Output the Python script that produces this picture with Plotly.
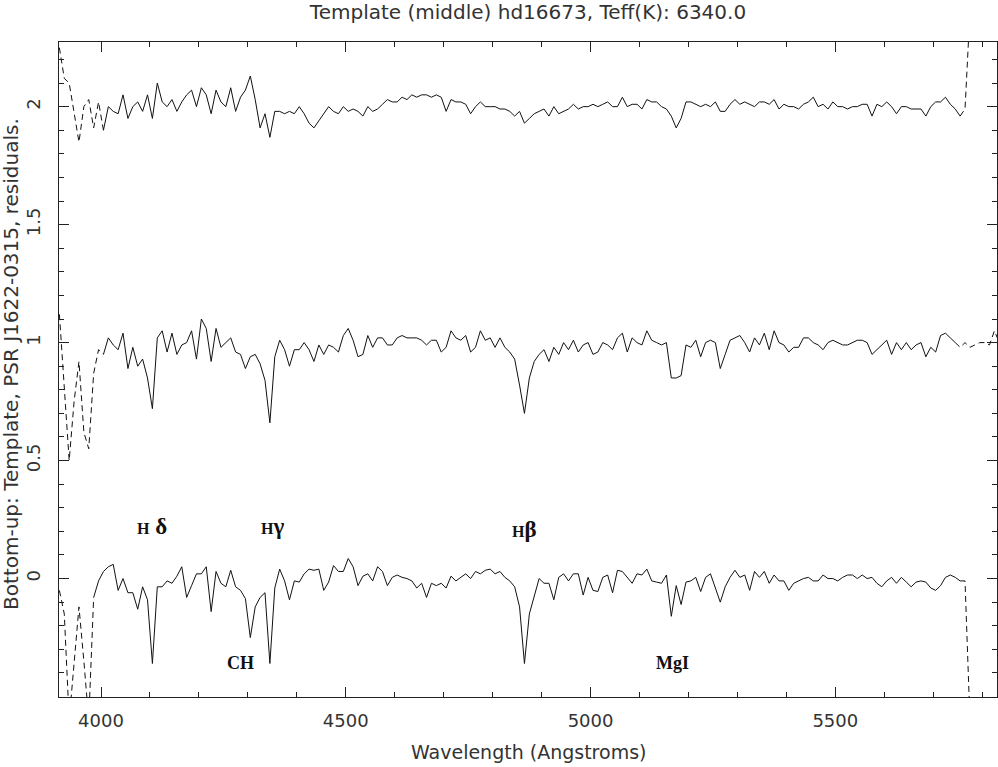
import numpy as np
import plotly.graph_objects as go

# spectra sampled every 10 A; each value is taken at the bin centre
WAVE_START = 3915
WAVE_STEP = 10

# bottom: template spectrum (normalised, shifted to 0)
template = [
    -0.05, -0.15, -0.6, -0.35, -0.12, -0.35, -0.6, -0.08, -0.01, 0.03,
    0.05, 0.06, -0.05, 0.0, -0.06, -0.06, -0.13, -0.035, -0.09, -0.36,
    -0.035, -0.035, -0.01, -0.02, 0.01, 0.05, -0.08, -0.03, 0.02, 0.02,
    0.05, -0.14, 0.03, -0.02, -0.035, 0.035, -0.035, -0.05, -0.085, -0.25,
    -0.12, -0.08, -0.06, -0.36, -0.04, 0.04, -0.01, -0.09, -0.01, -0.015,
    0.02, 0.04, 0.035, 0.04, -0.05, -0.015, 0.055, 0.03, 0.03, 0.085,
    0.05, -0.03, 0.01, 0.02, -0.01, 0.05, 0.03, -0.03, 0.005, 0.015,
    0.005, 0.0, -0.01, -0.04, -0.02, -0.08, -0.02, -0.03, -0.02, -0.04,
    0.01, -0.01, 0.005, 0.02, 0.0, 0.03, 0.02, 0.035, 0.04, 0.02,
    0.03, 0.005, -0.01, -0.035, -0.12, -0.36, -0.15, -0.07, 0.0, -0.02,
    -0.02, -0.09, 0.005, 0.02, -0.01, 0.02, 0.02, -0.07, 0.005, -0.05,
    -0.055, 0.005, 0.015, -0.06, 0.035, 0.03, 0.005, -0.02, 0.02, 0.015,
    0.04, -0.01, -0.015, -0.02, 0.015, -0.16, -0.03, -0.11, -0.015, -0.01,
    0.005, -0.055, 0.005, 0.02, -0.04, -0.1, -0.035, 0.005, 0.035, 0.005,
    0.015, -0.05, 0.03, 0.005, 0.03, -0.02, 0.015, -0.01, -0.01, -0.05,
    -0.02, -0.01, 0.0, 0.005, -0.01, -0.01, 0.015, 0.0, 0.0, -0.01,
    0.005, 0.015, 0.015, 0.0, 0.015, 0.0, 0.005, -0.02, -0.035, -0.01,
    0.005, -0.02, 0.005, -0.015, -0.035, -0.015, -0.01, -0.015, -0.04, -0.05,
    -0.03, 0.005, 0.015, 0.005, -0.01, -0.01, -0.6, -0.6,
]

# middle: PSR J1622-0315 spectrum (shifted to 1)
psr = [
    1.12, 0.8, 0.5, 0.75, 0.92, 0.62, 0.55, 0.87, 0.97, 0.95,
    1.02, 0.99, 0.97, 1.04, 0.89, 0.98, 0.9, 0.93, 0.85, 0.72,
    1.02, 1.05, 0.96, 1.04, 0.95, 0.99, 1.0, 1.05, 0.93, 1.1,
    1.06, 0.92, 1.06, 0.98, 1.0, 1.02, 0.96, 0.95, 0.89, 0.94,
    0.95, 0.91, 0.84, 0.66, 0.94, 1.01, 0.97, 0.9, 0.97, 0.97,
    1.0, 0.97, 0.92, 0.99, 0.95, 0.99, 0.98, 0.96, 1.03, 1.06,
    1.01, 0.94, 0.95, 1.03, 0.98, 1.02, 1.02, 0.99, 0.99, 1.02,
    1.03, 1.02, 1.02, 1.02, 1.01, 0.99, 1.01, 1.01, 0.96, 0.98,
    1.05, 1.02, 1.01, 1.03, 0.96, 0.98, 1.05, 1.01, 1.02, 0.98,
    1.02, 0.98, 0.96, 0.93, 0.82, 0.7, 0.85, 0.92, 0.95, 0.97,
    0.92, 0.98, 0.95, 1.0, 0.97, 1.01, 0.96, 0.99, 1.0, 0.95,
    0.96, 1.0, 0.99, 0.97, 1.02, 1.04, 0.96, 1.02, 1.0, 0.99,
    1.05, 1.01, 1.0, 0.99, 1.0, 0.85, 0.85, 0.86, 0.99, 0.98,
    1.01, 0.94, 1.0, 1.01, 1.0, 0.89, 0.95, 1.01, 1.02, 1.03,
    1.0, 0.96, 1.02, 0.99, 1.04, 0.97, 1.05, 1.0, 0.99, 0.96,
    0.98, 0.98, 1.02, 1.02, 1.0, 0.99, 0.97, 1.0, 1.01, 1.0,
    0.99, 0.99, 1.0, 1.01, 1.01, 1.0, 0.95, 0.97, 0.99, 1.01,
    0.95, 1.0, 0.97, 1.0, 0.97, 0.99, 1.0, 0.94, 0.98, 0.96,
    1.03, 1.04, 1.02, 1.0, 0.98, 1.0, 0.98, 0.99, 1.0, 1.0,
    0.99, 1.05, 1.0, 1.0,
]

# top: residuals (shifted to 2)
resid = [
    2.25, 2.12, 2.1, 1.97, 1.85, 2.0, 2.03, 1.91, 2.02, 1.9,
    2.0, 1.98, 1.97, 2.05, 1.95, 2.0, 2.02, 1.98, 2.05, 1.95,
    2.1, 2.02, 2.0, 2.03, 1.98, 2.02, 2.05, 2.07, 2.0, 2.08,
    2.05, 1.97, 2.07, 2.02, 2.0, 2.08, 1.98, 2.04, 2.07, 2.13,
    2.03, 1.91, 1.97, 1.87, 1.98, 1.98, 1.97, 1.98, 1.97, 2.0,
    1.97, 1.93, 1.91, 1.94, 1.97, 2.0, 1.98, 1.97, 2.0, 1.98,
    1.99, 1.98, 1.96, 2.0, 1.98, 1.99, 2.01, 2.03, 2.02, 2.02,
    2.04, 2.03, 2.05, 2.04, 2.05, 2.05, 2.04, 2.05, 2.04, 1.98,
    2.03, 2.02, 2.02, 2.01, 1.97, 2.0, 2.02, 2.0, 2.0, 2.0,
    1.99, 1.99, 1.98, 1.96, 1.98, 1.93, 1.95, 1.97, 1.98, 1.99,
    1.96, 2.0, 1.97, 1.98, 1.99, 2.01, 1.99, 2.0, 2.0, 2.01,
    2.0, 2.01, 2.02, 2.0, 2.0, 2.04, 2.0, 2.01, 2.01, 1.99,
    2.03, 2.02, 2.02, 2.0, 1.99, 1.96, 1.91, 1.95, 2.02, 2.02,
    2.01, 2.0, 2.01, 2.0, 2.02, 1.98, 1.98, 2.01, 2.03, 2.01,
    2.02, 2.01, 2.0, 2.02, 2.02, 2.01, 2.03, 1.99, 2.01, 2.0,
    2.0, 1.99, 2.01, 2.02, 2.04, 2.0, 2.01, 1.99, 2.02, 2.0,
    2.0, 1.99, 2.0, 2.0, 2.01, 2.01, 1.96, 2.01, 2.0, 2.02,
    2.0, 1.97, 2.0, 2.0, 1.99, 1.99, 1.99, 1.96, 2.0, 2.02,
    2.02, 2.04, 2.01, 1.99, 1.96, 1.99, 2.4, 2.4,
]

# wavelength span plotted solid, the rest is dashed (masked edges)
solid_range = {
    "template": (3985, 5755),
    "psr": (4005, 5745),
    "resid": (4005, 5755),
}

line_names = ["H δ", "Hγ", "Hβ", "CH", "MgI"]
line_wave = [4104, 4351, 4866, 4284, 5168]
line_level = [0.22, 0.22, 0.21, -0.36, -0.36]

fig = go.Figure()

for name, vals in [("template", template), ("psr", psr), ("resid", resid)]:
    v = np.array(vals)
    w = WAVE_START + WAVE_STEP * np.arange(len(v))
    lo, hi = solid_range[name]
    parts = [
        (w <= lo, "6px,4px"),
        ((w >= lo) & (w <= hi), "solid"),
        (w >= hi, "6px,4px"),
    ]
    for mask, dash in parts:
        fig.add_trace(go.Scatter(
            x=w[mask], y=v[mask], mode="lines",
            line=dict(color="#111", width=1, dash=dash),
            showlegend=False, hoverinfo="skip",
        ))

for txt, lw, lv in zip(line_names, line_wave, line_level):
    if txt.startswith("H"):
        txt = ("<span style='font-size:16px'>H</span>"
               "<span style='font-size:23px'>" + txt[1:] + "</span>")
    fig.add_annotation(
        x=lw, y=lv, text="<b>" + txt + "</b>", showarrow=False,
        font=dict(family="Liberation Serif", size=18, color="#111"),
    )

axis_font = dict(family="DejaVu Sans", size=18, color="#333")
text_font = dict(family="DejaVu Sans", size=20, color="#333")
common = dict(
    showline=True, linecolor="#222", linewidth=1, mirror="allticks",
    ticks="inside", ticklen=10, tickcolor="#222", tickwidth=1,
    showgrid=False, zeroline=False, tickfont=axis_font, automargin=False,
)

fig.update_xaxes(
    range=[3914.2, 5830.3], tickvals=[4000, 4500, 5000, 5500],
    minor=dict(ticks="inside", ticklen=5, dtick=100, tickcolor="#222", showgrid=False),
    ticklabelstandoff=7, **common,
)
fig.update_yaxes(
    range=[-0.502, 2.274], tickvals=[0, 0.5, 1, 1.5, 2], tickangle=-90,
    minor=dict(ticks="inside", ticklen=5, dtick=0.1, tickcolor="#222", showgrid=False),
    ticklabelstandoff=11, **common,
)

fig.add_annotation(
    text="Wavelength (Angstroms)", xref="paper", yref="paper",
    x=0.5, y=-0.084, xanchor="center", yanchor="middle",
    showarrow=False, font=dict(family="DejaVu Sans", size=19, color="#333"),
)
fig.add_annotation(
    text="Bottom-up: Template, PSR J1622-0315, residuals.", xref="paper", yref="paper",
    x=-0.0505, y=0.508, xanchor="center", yanchor="middle", textangle=-90,
    showarrow=False, font=text_font,
)

fig.update_layout(
    width=998, height=767,
    margin=dict(l=59, r=1, t=42, b=70),
    paper_bgcolor="white", plot_bgcolor="white",
    title=dict(
        text="Template (middle) hd16673, Teff(K): 6340.0",
        x=0.5, xref="paper", xanchor="center",
        y=1 - 12 / 767, yref="container", yanchor="middle",
        font=text_font,
    ),
)

# drop the default page margin so the figure fills the window exactly
fig.write_html(
    "out.html",
    config={"displayModeBar": False},
    post_script="document.body.style.margin='0';document.body.style.overflow='hidden';",
)
